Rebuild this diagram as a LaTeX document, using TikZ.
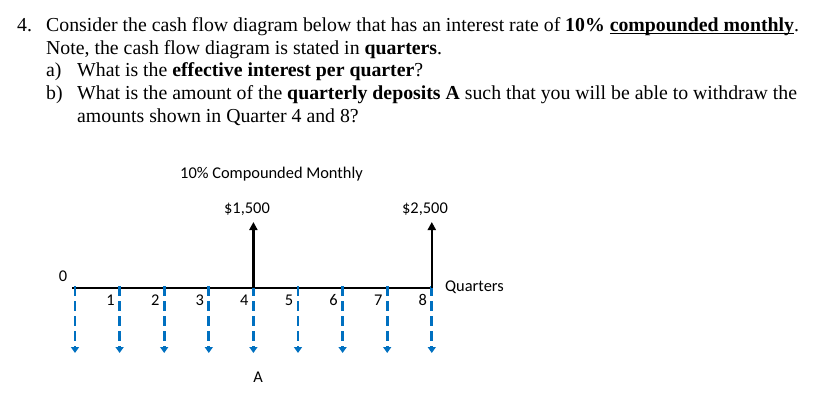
\documentclass[tikz,border=0pt]{standalone}
\usepackage{fontspec}
\setmainfont{Liberation Serif}
\newfontfamily\calibrifont{Carlito}
\usetikzlibrary{arrows.meta}
\usetikzlibrary{positioning}

\definecolor{flowblue}{HTML}{0070C0}
\newcommand{\ulbase}[1]{\setbox0\hbox{#1}\rlap{\rule[-2.4pt]{\wd0}{1.3pt}}\box0}

\tikzset{
  qtext/.style={anchor=base west, inner sep=0pt, font=\fontsize{19.8}{22}\selectfont},
  cflabel/.style={inner sep=0pt, font=\calibrifont\fontsize{16.4}{18}\selectfont},
  deposit/.style={flowblue, line width=2.7pt, dash pattern=on 10pt off 5pt, -{Triangle[width=8pt,length=6pt]}},
  withdraw/.style={line width=2.5pt, -{Triangle[width=8pt,length=8pt]}},
}

\begin{document}
\begin{tikzpicture}[x=1pt,y=-1pt]
    \useasboundingbox (0,0) rectangle (835,406);

    % question text
    \node[qtext] (num) at (17,32) {4.};
    \node[qtext] (line1) at (46,32) {Consider the cash flow diagram below that has an interest rate of \textbf{10\%} \ulbase{\textbf{compounded monthly}}.};
    \node[qtext] (note) at (46,55) {Note, the cash flow diagram is stated in \textbf{quarters}.};
    \node[qtext] (parta) at (46,77) {a)};
    \node[qtext] (texta) at (77,77) {What is the \textbf{effective interest per quarter}?};
    \node[qtext] (partb) at (46,100) {b)};
    \node[qtext] (textb) at (77,100) {What is the amount of the \textbf{quarterly deposits A} such that you will be able to withdraw the};
    \node[qtext] (textb2) at (77,123) {amounts shown in Quarter 4 and 8?};

    % time axis
    \foreach \i in {0,...,8} {
        \coordinate (t\i) at (75+44.6*\i,286);
        \coordinate (b\i) at (75+44.6*\i,353);
    }
    \coordinate (start) at (72,288);
    \coordinate (end) at (432,288);
    \draw[line width=2.5pt] (start) -- (end);

    % deposits A
    \foreach \i in {0,...,8}
        \draw[deposit] (t\i) -- (b\i);

    % withdrawals
    \coordinate (up4) at (t4 |- 0,222);
    \coordinate (up8) at (t8 |- 0,222);
    \draw[withdraw] (t4 |- start) -- (up4);
    \draw[withdraw] (t8 |- start) -- (up8);

    % labels
    \node[cflabel, anchor=west] (rate) at (180,174) {10\% Compounded Monthly};
    \node[cflabel] (amt4) at (247,209) {\$1,500};
    \node[cflabel] (amt8) at (425,209) {\$2,500};
    \node[cflabel] (zero) at (63,276) {0};
    \foreach \i in {1,...,8}
        \node[cflabel] (n\i) at (66+44.6*\i,300) {\i};
    \node[cflabel, anchor=west] (quarters) at (445,287) {Quarters};
    \node[cflabel] (depA) at (258,377) {A};

\end{tikzpicture}
\end{document}
